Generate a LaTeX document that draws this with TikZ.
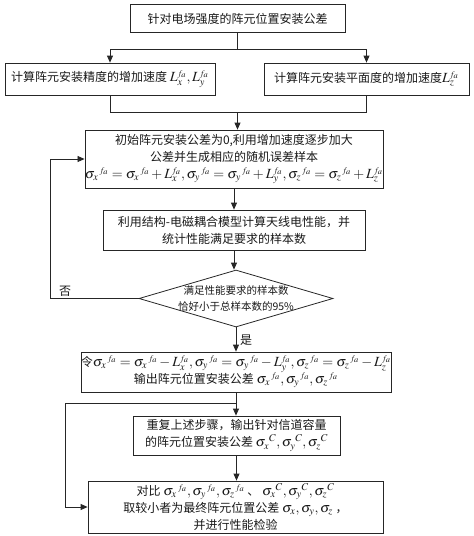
\documentclass[tikz,border=0pt]{standalone}
\usepackage{mathptmx}
\usepackage{fontspec}
\setmainfont{Noto Sans CJK SC}
\usetikzlibrary{shapes.geometric,arrows.meta,calc}
\tikzset{
  box/.style={draw=black!85, line width=0.8pt, rectangle, inner sep=0pt, align=center,
    font=\fontsize{12}{17}\selectfont, text=black!90},
  conn/.style={draw=black!85, line width=0.8pt},
  arr/.style={conn, -{Triangle[length=7pt,width=6pt]}},
  lab/.style={font=\fontsize{12}{14}\selectfont, text=black!90, inner sep=0pt},
}
\newcommand{\sfa}[1]{\sigma_{#1}{}^{\,\scriptscriptstyle f_a}}
\newcommand{\Lfa}[1]{L_{#1}^{\scriptscriptstyle f_a}}
\newcommand{\sC}[1]{\sigma_{#1}{}^{C}}
\newcommand{\M}[1]{{\fontsize{14}{17}\selectfont$#1$}}
\begin{document}
\begin{tikzpicture}[x=1pt,y=-1pt]
\useasboundingbox (0,0) rectangle (474,536);
\node[box, minimum width=215pt, minimum height=28pt] (b1) at (237.5,18.5) {针对电场强度的阵元位置安装公差};
\node[box, minimum width=210pt, minimum height=32pt] (b2) at (110,79) {计算阵元安装精度的增加速度 \M{\Lfa{x},\Lfa{y}}};
\node[box, minimum width=205pt, minimum height=32pt] (b3) at (366.5,79) {计算阵元安装平面度的增加速度\M{\Lfa{z}}};
\node[box, minimum width=262pt, minimum height=58pt] (b4) at (234,159) {初始阵元安装公差为0,利用增加速度逐步加大\\公差并生成相应的随机误差样本\\\M{\sfa{x}=\sfa{x}+\Lfa{x},\sfa{y}=\sfa{y}+\Lfa{y},\sfa{z}=\sfa{z}+\Lfa{z}}};
\node[box, minimum width=262pt, minimum height=40pt] (b5) at (234,230) {利用结构-电磁耦合模型计算天线电性能，并\\统计性能满足要求的样本数};
\node[draw=black!85, line width=0.8pt, diamond, minimum width=194pt, minimum height=57pt, inner sep=0pt] (d) at (236,298.5) {};
\node[align=center, font=\fontsize{10.5}{17}\selectfont, text=black!90, inner sep=0pt] (dt) at (d.center) {满足性能要求的样本数\\恰好小于总样本数的95\%};
\node[box, minimum width=282pt, minimum height=40pt] (b6) at (236,372) {令\M{\sfa{x}=\sfa{x}-\Lfa{x},\sfa{y}=\sfa{y}-\Lfa{y},\sfa{z}=\sfa{z}-\Lfa{z}}\\输出阵元位置安装公差 \M{\sfa{x},\sfa{y},\sfa{z}}};
\node[box, minimum width=207pt, minimum height=39pt] (b7) at (236.5,435.5) {重复上述步骤，输出针对信道容量\\的阵元位置安装公差 \M{\sC{x},\sC{y},\sC{z}}};
\node[box, minimum width=295pt, minimum height=52pt] (b8) at (235.5,507) {对比 \M{\sfa{x},\sfa{y},\sfa{z}} 、 \M{\sC{x},\sC{y},\sC{z}}\\取较小者为最终阵元位置公差 \M{\sigma_x,\sigma_y,\sigma_z} ，\\并进行性能检验};
% connectors
\coordinate (j1) at (b1.south |- 0,49);
\draw[conn] (b1.south) -- (j1);
\draw[arr] (j1) -| (b2.north);
\draw[arr] (j1) -| (b3.north);
\coordinate (j2) at (b1.south |- 0,112);
\draw[conn] (b2.south) |- (j2);
\draw[conn] (b3.south) |- (j2);
\draw[arr] (j2) -- (j2 |- b4.north);
\draw[arr] (b4.south) -- (b5.north);
\draw[arr] (b5.south) -- (b5.south |- d.north);
\coordinate (l1) at (50,0);
\draw[arr] (d.west) -| (l1 |- b4.west) -- (b4.west);
\node[lab] (no) at (65,291) {否};
\draw[arr] (d.south) -- (d.south |- b6.north);
\node[lab] (yes) at (246,340) {是};
\coordinate (j3) at (d.south |- 0,403);
\draw[arr] (j3 |- b6.south) -- (j3 |- b7.north);
\coordinate (l2) at (65,0);
\draw[arr] (j3) -| (l2 |- b8.west) -- (b8.west);
\draw[arr] (b7.south) -- (b7.south |- b8.north);
\end{tikzpicture}
\end{document}
